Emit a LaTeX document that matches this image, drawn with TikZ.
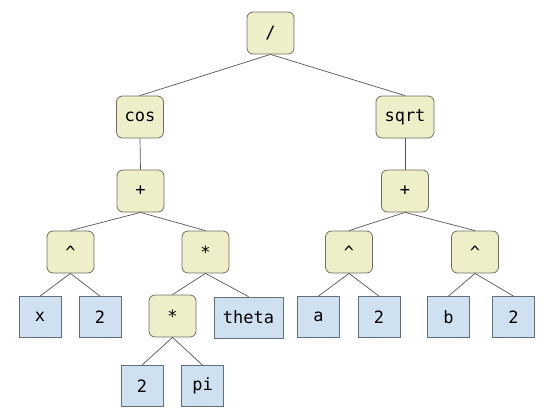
\documentclass[tikz,border=0pt]{standalone}
\usepackage{fontspec}
\setmonofont{DejaVu Sans Mono}
\definecolor{opfill}{RGB}{238,238,200}
\definecolor{opdraw}{RGB}{110,110,100}
\definecolor{leaffill}{RGB}{207,224,241}
\definecolor{leafdraw}{RGB}{100,110,120}
\definecolor{edgecol}{RGB}{85,85,85}
\tikzset{
  opbox/.style={draw=opdraw, fill=opfill, rounded corners=6pt, line width=0.8pt,
    minimum width=47pt, minimum height=42pt, inner sep=0pt,
    font=\ttfamily\fontsize{17}{20}\selectfont},
  leafbox/.style={draw=leafdraw, fill=leaffill, line width=0.8pt,
    minimum width=42pt, minimum height=41pt, inner sep=0pt,
    font=\ttfamily\fontsize{17}{20}\selectfont},
  edge/.style={draw=edgecol, line width=0.7pt}
}
\begin{document}
\begin{tikzpicture}[x=1pt,y=-1pt]
\useasboundingbox (0,0) rectangle (552,418);
\node[opbox] (root) at (270.5,33) {/};
\node[opbox] (cos) at (140,117) {cos};
\node[opbox, minimum width=58pt] (sqrt) at (405,117) {sqrt};
\node[opbox] (plusL) at (140.5,191) {+};
\node[opbox] (plusR) at (405,191) {+};
\node[opbox] (powA) at (70.5,252) {\^{}};
\node[opbox] (mulA) at (205.5,252) {*};
\node[opbox] (powB) at (349,252) {\^{}};
\node[opbox] (powC) at (475,252) {\^{}};
\node[leafbox] (x) at (40,317) {x};
\node[leafbox] (twoA) at (100,317) {2};
\node[opbox] (mulB) at (172.5,316) {*};
\node[leafbox, minimum width=69pt] (theta) at (248.5,317.5) {theta};
\node[leafbox] (twoB) at (142,386) {2};
\node[leafbox] (pi) at (202.5,386) {pi};
\node[leafbox] (a) at (318.5,317) {a};
\node[leafbox] (twoC) at (379,317) {2};
\node[leafbox] (b) at (448.5,317) {b};
\node[leafbox] (twoD) at (513.5,317) {2};
\draw[edge] (root.south) -- (cos.north);
\draw[edge] (root.south) -- (sqrt.north);
\draw[edge] (cos.south) -- (plusL.north);
\draw[edge] (sqrt.south) -- (plusR.north);
\draw[edge] (plusL.south) -- (powA.north);
\draw[edge] (plusL.south) -- (mulA.north);
\draw[edge] (powA.south) -- (x.north);
\draw[edge] (powA.south) -- (twoA.north);
\draw[edge] (mulA.south) -- (mulB.north);
\draw[edge] (mulA.south) -- (theta.north);
\draw[edge] (mulB.south) -- (twoB.north);
\draw[edge] (mulB.south) -- (pi.north);
\draw[edge] (plusR.south) -- (powB.north);
\draw[edge] (plusR.south) -- (powC.north);
\draw[edge] (powB.south) -- (a.north);
\draw[edge] (powB.south) -- (twoC.north);
\draw[edge] (powC.south) -- (b.north);
\draw[edge] (powC.south) -- (twoD.north);
\end{tikzpicture}
\end{document}
